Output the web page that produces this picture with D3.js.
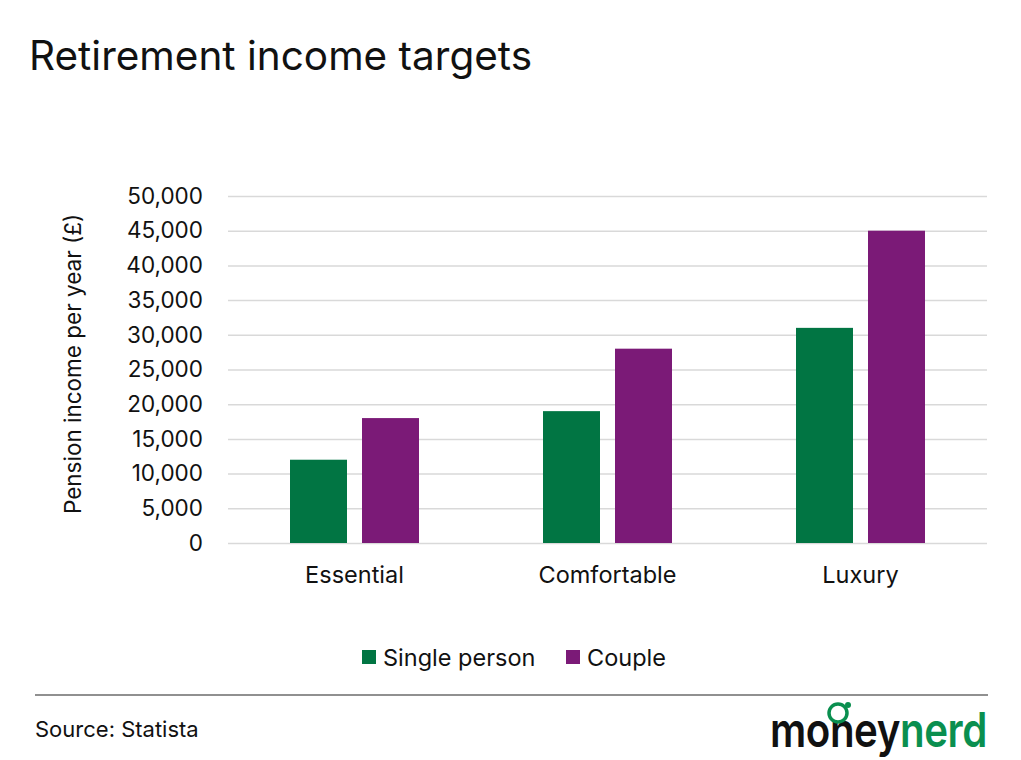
<!DOCTYPE html>
<html><head><meta charset="utf-8">
<script src="https://cdn.jsdelivr.net/npm/d3@7"></script>
<style>body{margin:0;background:#fff}svg{display:block}text{font-family:Inter,"Open Sans",sans-serif}</style>
</head><body>
<svg id="c" width="1021" height="760"></svg>
<script>
const categories = ["Essential", "Comfortable", "Luxury"];
const seriesNames = ["Single person", "Couple"];
const singleValues = [12000, 19000, 31000];
const coupleValues = [18000, 28000, 45000];
const yTicks = [0, 5000, 10000, 15000, 20000, 25000, 30000, 35000, 40000, 45000, 50000];
const colors = ["#017543", "#7b1a77"];

const svg = d3.select("#c");
const m = {l: 228, r: 987, t: 196, b: 543};
const x = d3.scaleBand().domain(categories).range([m.l, m.r]);
const y = d3.scaleLinear().domain([0, 50000]).range([m.b, m.t]);
const series = [singleValues, coupleValues];

svg.append("text").attr("x", 29).attr("y", 70).attr("font-size", 40.5).attr("fill", "#111").text("Retirement income targets");

const yAxis = d3.axisLeft(y).tickValues(yTicks).tickSize(-(m.r - m.l)).tickFormat(d3.format(","));
const ga = svg.append("g").attr("transform", `translate(${m.l},0)`).call(yAxis);
ga.select(".domain").remove();
ga.selectAll(".tick line").attr("stroke", "#d9d9d9").attr("stroke-width", 1.5);
ga.selectAll(".tick text").attr("x", -25).attr("font-size", 22.5).attr("fill", "#111").attr("font-family", "Inter");

const bw = 57, gap = 15;
series.forEach((vals, si) => {
  svg.append("g").selectAll("rect").data(vals).join("rect")
    .attr("x", (d, i) => x(categories[i]) + x.bandwidth() / 2 + (si === 0 ? -gap / 2 - bw : gap / 2))
    .attr("width", bw)
    .attr("y", d => y(d))
    .attr("height", d => y(0) - y(d))
    .attr("fill", colors[si]);
});

const xa = svg.append("g").attr("transform", `translate(0,${m.b})`).call(d3.axisBottom(x).tickSize(0));
xa.select(".domain").remove();
xa.selectAll(".tick text").attr("dy", 0).attr("y", 40).attr("font-size", 23.5).attr("fill", "#111").attr("font-family", "Inter");

svg.append("text").attr("transform", "translate(81,364) rotate(-90)").attr("text-anchor", "middle")
  .attr("font-size", 22.5).attr("fill", "#111").text("Pension income per year (£)");

const leg = [{x: 362, tx: 383}, {x: 566, tx: 587}];
seriesNames.forEach((n, i) => {
  svg.append("rect").attr("x", leg[i].x).attr("y", 650).attr("width", 14).attr("height", 14).attr("fill", colors[i]);
  svg.append("text").attr("x", leg[i].tx).attr("y", 666).attr("font-size", 23.5).attr("fill", "#111").text(n);
});

svg.append("line").attr("x1", 35).attr("x2", 988).attr("y1", 695).attr("y2", 695).attr("stroke", "#222").attr("stroke-width", 1.2);
svg.append("text").attr("x", 35).attr("y", 737).attr("font-size", 22).attr("fill", "#111").text("Source: Statista");

// logo
const lg = svg.append("g");
const t1 = lg.append("text").attr("x", 0).attr("y", 0).attr("font-size", 48).attr("font-weight", 600)
  .attr("letter-spacing", -0.5).attr("fill", "#111").text("money");
const w1 = t1.node().getComputedTextLength();
const t2 = lg.append("text").attr("x", w1).attr("y", 0).attr("font-size", 48).attr("font-weight", 600)
  .attr("letter-spacing", -0.5).attr("fill", "#0a8f4f").text("nerd");
const w2 = t2.node().getComputedTextLength();
const sx = 217 / (w1 + w2);
lg.attr("transform", `translate(770,747) scale(${sx},1)`);
svg.append("circle").attr("cx", 838).attr("cy", 713).attr("r", 9).attr("fill", "none").attr("stroke", "#0a8f4f").attr("stroke-width", 3.5);
svg.append("circle").attr("cx", 848).attr("cy", 705).attr("r", 3).attr("fill", "#0a8f4f");
</script>
</body></html>
